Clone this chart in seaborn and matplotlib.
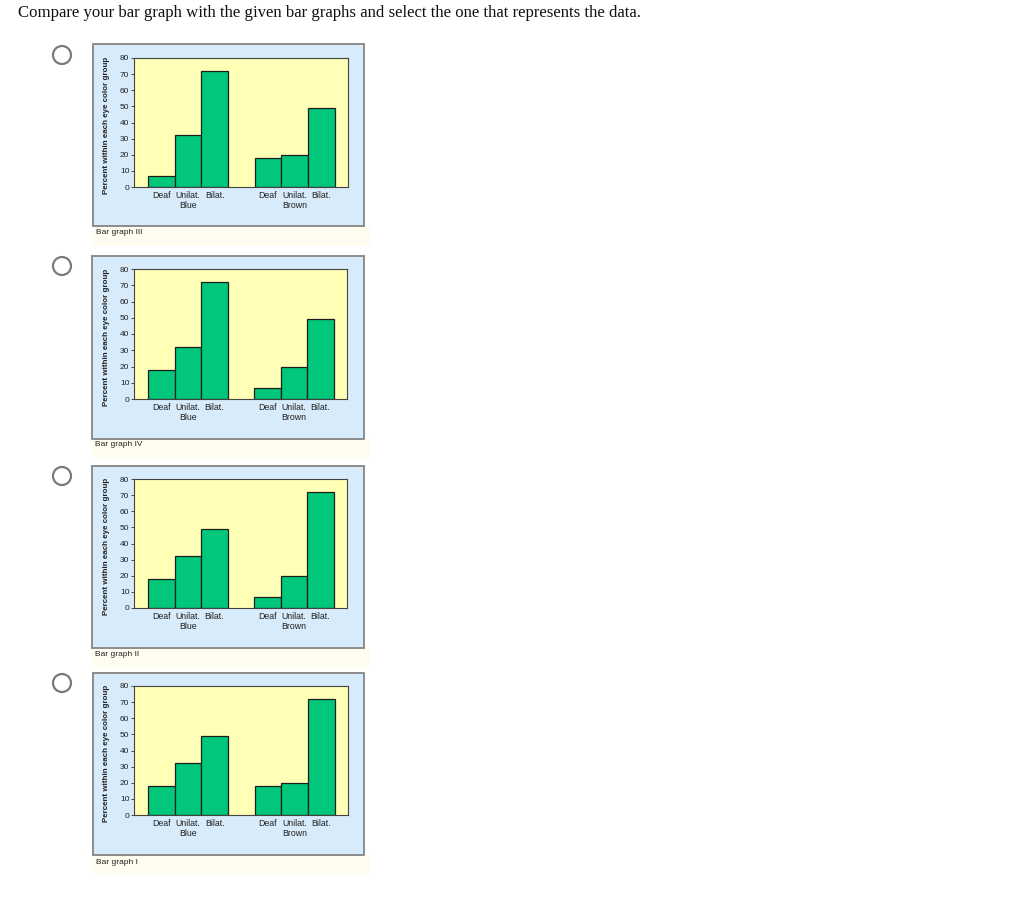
import matplotlib
matplotlib.use("Agg")
import matplotlib.pyplot as plt
from matplotlib.patches import Rectangle, Ellipse
import seaborn as sns
import pandas as pd

# ---- data ----
positions = [0, 1, 2, 4, 5, 6]
tick_labels = ["Deaf", "Unilat.\nBlue", "Bilat.", "Deaf", "Unilat.\nBrown", "Bilat."]
graph_III = [7, 32, 72, 18, 20, 49]
graph_IV = [18, 32, 72, 7, 20, 49]
graph_II = [18, 32, 49, 7, 20, 72]
graph_I = [18, 32, 49, 18, 20, 72]
yticks = [0, 10, 20, 30, 40, 50, 60, 70, 80]
captions = ["Bar graph III", "Bar graph IV", "Bar graph II", "Bar graph I"]
panel_values = [graph_III, graph_IV, graph_II, graph_I]
title = "Compare your bar graph with the given bar graphs and select the one that represents the data."
ylabel = "Percent within each eye color group"

sns.set_theme(style="ticks")
plt.rcParams["font.family"] = ["Liberation Sans", "DejaVu Sans"]

W, H = 1024, 914
fig = plt.figure(figsize=(W / 100, H / 100), dpi=100)
fig.patch.set_facecolor("white")

def fx(px):
    return px / W

def fy(py):
    return 1 - py / H

GREEN = "#00C77A"
YELLOW = "#FFFFB5"
LBLUE = "#D7EBFA"
CREAM = "#FFFDF0"

fig.text(fx(18), fy(13), title, family=["Liberation Serif", "DejaVu Serif"],
         fontsize=12.1, color="#111", ha="left", va="center")

# pixel layouts: box (x0,y0,x1,y1), axes (x0,y0,x1,y1), caption y, circle center
layouts = [
    ((93, 44, 364, 226), (134, 58, 348, 187), 233, (62, 55)),
    ((92, 256, 364, 439), (134, 269, 347, 399), 445, (62, 266)),
    ((92, 466, 364, 648), (134, 479, 347, 608), 655, (62, 476)),
    ((93, 673, 364, 855), (134, 686, 348, 815), 862, (62, 683)),
]

for vals, cap, (box, axr, capy, circ) in zip(panel_values, captions, layouts):
    bx0, by0, bx1, by1 = box
    # cream strip under the box
    fig.add_artist(Rectangle((fx(bx0), fy(by1 + 20)), fx(bx1 + 6) - fx(bx0), fy(by1) - fy(by1 + 20),
                             transform=fig.transFigure, facecolor=CREAM, edgecolor="none", zorder=-2))
    # light-blue box
    fig.add_artist(Rectangle((fx(bx0), fy(by1)), fx(bx1) - fx(bx0), fy(by0) - fy(by1),
                             transform=fig.transFigure, facecolor=LBLUE, edgecolor="#8c8c8c",
                             linewidth=1.4, zorder=-1))
    # radio circle
    fig.add_artist(Ellipse((fx(circ[0]), fy(circ[1])), 18 / W, 18 / H, transform=fig.transFigure,
                           facecolor="white", edgecolor="#7a7a7a", linewidth=1.6))
    # caption
    fig.text(fx(bx0 + 3), fy(capy), cap, fontsize=6, color="#222", ha="left", va="center")
    # y label
    fig.text(fx(107), fy((axr[1] + axr[3]) / 2 + 3), ylabel, rotation=90, fontsize=5.8,
             color="#222", ha="center", va="center", fontweight="bold")

    ax0, ay0, ax1, ay1 = axr
    ax = fig.add_axes([fx(ax0), fy(ay1), fx(ax1) - fx(ax0), fy(ay0) - fy(ay1)])
    ax.set_zorder(2)
    ax.set_facecolor(YELLOW)
    df = pd.DataFrame({"pos": positions, "pct": vals})
    sns.barplot(data=df, x="pos", y="pct", native_scale=True, width=1, color=GREEN,
                saturation=1, edgecolor="#1e1e1e", linewidth=0.9, ax=ax)
    ax.set_xlim(-1.03, 7.0)
    ax.set_ylim(0, 80)
    ax.set_xticks(positions)
    ax.set_xticklabels(tick_labels, fontsize=6.3, color="#222", linespacing=1.1)
    ax.set_yticks(yticks)
    ax.set_yticklabels([str(v) for v in yticks], fontsize=6, color="#222")
    ax.tick_params(axis="x", length=0, pad=3)
    ax.tick_params(axis="y", length=2.5, width=0.6, pad=0.8, color="#333")
    ax.set_xlabel("")
    ax.set_ylabel("")
    for s in ax.spines.values():
        s.set_linewidth(0.8)
        s.set_color("#444")
        s.set_visible(True)

fig.savefig("out.png", dpi=100)
